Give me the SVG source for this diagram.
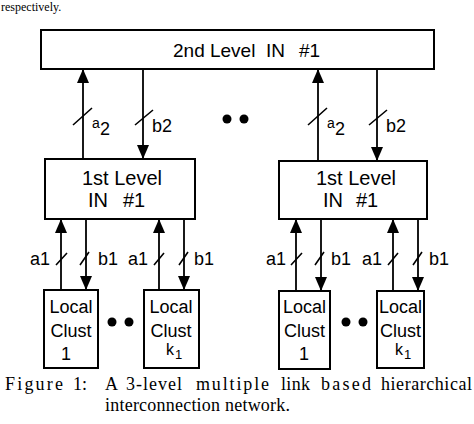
<svg xmlns="http://www.w3.org/2000/svg" width="474" height="424" viewBox="0 0 474 424">
<style>
.box{fill:#fff;stroke:#000;stroke-width:2}
.ln{stroke:#000;stroke-width:1.8;fill:none}
.sl{stroke:#000;stroke-width:1.6;fill:none}
.t{font-family:"Liberation Sans",Arial,sans-serif;fill:#000}
.cap{font-family:"Liberation Serif","Times New Roman",serif;font-size:18px;fill:#000}
</style>
<defs>
<marker id="ah" viewBox="0 0 14 12" refX="14" refY="6" markerWidth="14" markerHeight="12" markerUnits="userSpaceOnUse" orient="auto">
<path d="M0,0 L14,6 L0,12 Z" fill="#000"/>
</marker>
</defs>
<rect width="474" height="424" fill="#fff"/>
<text class="cap" x="1" y="11" style="font-size:12px">respectively.</text>

<g id="connectors">
<line class="ln" x1="83" y1="159" x2="83" y2="69" marker-end="url(#ah)"/>
<line class="ln" x1="143" y1="69" x2="143" y2="159" marker-end="url(#ah)"/>
<line class="ln" x1="318" y1="161" x2="318" y2="69" marker-end="url(#ah)"/>
<line class="ln" x1="377" y1="69" x2="377" y2="161" marker-end="url(#ah)"/>
<line class="ln" x1="61" y1="290" x2="61" y2="219" marker-end="url(#ah)"/>
<line class="ln" x1="86" y1="219" x2="86" y2="290" marker-end="url(#ah)"/>
<line class="ln" x1="159" y1="290" x2="159" y2="219" marker-end="url(#ah)"/>
<line class="ln" x1="184" y1="219" x2="184" y2="290" marker-end="url(#ah)"/>
<line class="ln" x1="296" y1="291" x2="296" y2="219" marker-end="url(#ah)"/>
<line class="ln" x1="321" y1="219" x2="321" y2="291" marker-end="url(#ah)"/>
<line class="ln" x1="393" y1="291" x2="393" y2="219" marker-end="url(#ah)"/>
<line class="ln" x1="418" y1="219" x2="418" y2="291" marker-end="url(#ah)"/>
<path class="sl" d="M73,125 L92,108 M135,125 L153,110 M308,125 L327,108 M369,125 L387,110"/>
<path class="sl" d="M56,265 L67,253 M80,265 L89,252 M154,265 L164,253 M179,265 L188,252 M291,265 L302,253 M315,265 L324,252 M388,265 L398,253 M413,265 L422,252"/>
<g class="t" font-size="18">
<text x="92" y="128" font-size="14">a</text><text x="100" y="135">2</text>
<text x="152" y="132">b2</text>
<text x="327" y="128" font-size="14">a</text><text x="335" y="135">2</text>
<text x="386" y="132">b2</text>
<text x="30" y="265">a1</text><text x="98" y="265">b1</text>
<text x="128" y="265">a1</text><text x="194" y="265">b1</text>
<text x="266" y="265">a1</text><text x="331" y="265">b1</text>
<text x="362" y="265">a1</text><text x="429" y="265">b1</text>
</g>
<g fill="#000">
<circle cx="227" cy="119" r="4.5"/><circle cx="244" cy="119" r="4.5"/>
<circle cx="112" cy="322" r="4.5"/><circle cx="129" cy="322" r="4.5"/>
<circle cx="346" cy="322" r="4.5"/><circle cx="363" cy="322" r="4.5"/>
</g>
</g>

<g id="level2">
<rect class="box" x="41" y="30" width="393" height="39"/>
<text class="t" font-size="19" y="57"><tspan x="173">2nd Level</tspan><tspan x="266">IN</tspan><tspan x="299">#1</tspan></text>
</g>

<g id="level1-a">
<rect class="box" x="45" y="159" width="150" height="60"/>
<text class="t" font-size="20" x="122" y="185" text-anchor="middle">1st Level</text>
<text class="t" font-size="20" y="207"><tspan x="88">IN</tspan><tspan x="123">#1</tspan></text>
</g>
<g id="level1-b">
<rect class="box" x="279" y="161" width="148" height="58"/>
<text class="t" font-size="20" x="356" y="185" text-anchor="middle">1st Level</text>
<text class="t" font-size="20" y="207"><tspan x="323">IN</tspan><tspan x="356">#1</tspan></text>
</g>

<g id="local-a1">
<rect class="box" x="44" y="290" width="54" height="78"/>
<text class="t" font-size="18" text-anchor="middle"><tspan x="71" y="313">Local</tspan><tspan x="71" y="337">Clust</tspan><tspan x="66" y="360">1</tspan></text>
</g>
<g id="local-ak">
<rect class="box" x="144" y="290" width="55" height="78"/>
<text class="t" font-size="18" text-anchor="middle"><tspan x="171" y="313">Local</tspan><tspan x="171" y="337">Clust</tspan></text>
<text class="t" font-size="16" x="166" y="355">k</text><text class="t" font-size="13" x="175" y="359">1</text>
</g>
<g id="local-b1">
<rect class="box" x="279" y="291" width="51" height="78"/>
<text class="t" font-size="18" text-anchor="middle"><tspan x="304.5" y="313">Local</tspan><tspan x="304.5" y="337">Clust</tspan><tspan x="304" y="360">1</tspan></text>
</g>
<g id="local-bk">
<rect class="box" x="377" y="291" width="47" height="77"/>
<text class="t" font-size="18" text-anchor="middle"><tspan x="400.5" y="313">Local</tspan><tspan x="400.5" y="337">Clust</tspan></text>
<text class="t" font-size="16" x="395" y="355">k</text><text class="t" font-size="13" x="404" y="359">1</text>
</g>

<g id="caption">
<text class="cap" x="5" y="390" textLength="58" lengthAdjust="spacing">Figure</text>
<text class="cap" x="73" y="390">1:</text>
<text class="cap" x="105" y="390">A</text>
<text class="cap" x="126" y="390" textLength="56" lengthAdjust="spacing">3-level</text>
<text class="cap" x="196" y="390" textLength="73" lengthAdjust="spacing">multiple</text>
<text class="cap" x="281" y="390" textLength="29" lengthAdjust="spacing">link</text>
<text class="cap" x="321" y="390" textLength="50" lengthAdjust="spacing">based</text>
<text class="cap" x="381" y="390" textLength="91" lengthAdjust="spacing">hierarchical</text>
<text class="cap" x="105" y="410.5" textLength="185" lengthAdjust="spacing">interconnection network.</text>
</g>
</svg>
